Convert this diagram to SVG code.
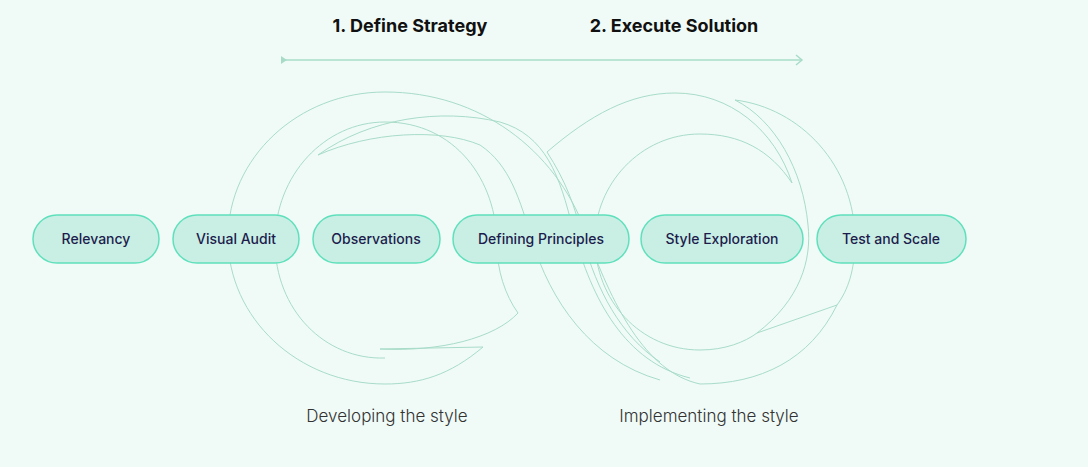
<svg xmlns="http://www.w3.org/2000/svg" width="1088" height="467" viewBox="0 0 1088 467">
<style>
.sw{fill:none;stroke:#a8dcc9;stroke-width:1}
.pill{fill:#c9efe4;stroke:#5fe0bc;stroke-width:1.5}
.pt{font-family:Inter,"Noto Sans",sans-serif;font-size:14px;font-weight:500;fill:#1d1d4d;text-anchor:middle}
.h{font-family:Inter,"Noto Sans",sans-serif;font-size:18px;font-weight:700;fill:#111;text-anchor:middle}
.b{font-family:Inter,"Noto Sans",sans-serif;font-size:17px;font-weight:300;fill:#333;text-anchor:middle}
</style>
<rect width="1088" height="467" fill="#f0fbf7"/>
<text class="h" x="410" y="32">1. Define Strategy</text>
<text class="h" x="674" y="32">2. Execute Solution</text>
<g id="connectors">
<path d="M281,60 H802" stroke="#a8dcc9" stroke-width="1.5" fill="none"/>
<path d="M281,56 L287,60 L281,64 Z" fill="#a8dcc9"/>
<path d="M796,55 L802,60 L796,65" stroke="#a8dcc9" stroke-width="1.5" fill="none"/>
<path class="sw" d="M483,347 C450,375 420,384 385,384 C298,384 228,318 228,238 C228,158 298,92 385,92 C480,92 555,150 585,230 C612,305 645,372 700,384"/>
<path class="sw" d="M483,347 L380,349 C440,352 495,338 518,313 C505,295 497,270 497,245 C497,180 455,122 385,122 C325,122 275,175 275,242 C275,310 325,360 385,358"/>
<path class="sw" d="M318,155 C370,118 440,108 500,122 C545,135 560,175 573,230 C592,300 625,362 690,378"/>
<path class="sw" d="M318,155 C370,132 440,128 480,145 C510,165 520,200 532,240 C550,300 590,360 660,380"/>
<path class="sw" d="M547,152 C590,115 630,93 675,93 C730,93 775,130 792,183"/>
<path class="sw" d="M792,183 C770,150 740,134 700,134 C640,134 595,185 595,240 C595,300 640,350 700,350 C725,350 745,342 757,333"/>
<path class="sw" d="M757,333 L837,305 C810,360 760,384 700,384"/>
<path class="sw" d="M757,333 C800,300 812,260 808,225 C803,170 775,120 735,100"/>
<path class="sw" d="M735,100 C800,108 855,165 855,240 C855,270 848,290 837,305"/>
<path class="sw" d="M547,152 C565,180 575,205 583,240 C597,290 620,335 660,362"/>
</g>
<g id="relevancy"><rect class="pill" x="33" y="215" width="126" height="48" rx="24"/><text class="pt" x="96" y="244">Relevancy</text></g>
<g id="visual-audit"><rect class="pill" x="173" y="215" width="126" height="48" rx="24"/><text class="pt" x="236" y="244">Visual Audit</text></g>
<g id="observations"><rect class="pill" x="313" y="215" width="127" height="48" rx="24"/><text class="pt" x="376" y="244">Observations</text></g>
<g id="defining-principles"><rect class="pill" x="453" y="215" width="176" height="48" rx="24"/><text class="pt" x="541" y="244">Defining Principles</text></g>
<g id="style-exploration"><rect class="pill" x="641" y="215" width="162" height="48" rx="24"/><text class="pt" x="722" y="244">Style Exploration</text></g>
<g id="test-and-scale"><rect class="pill" x="817" y="215" width="149" height="48" rx="24"/><text class="pt" x="891" y="244">Test and Scale</text></g>
<text class="b" x="387" y="422">Developing the style</text>
<text class="b" x="709" y="422">Implementing the style</text>
</svg>
